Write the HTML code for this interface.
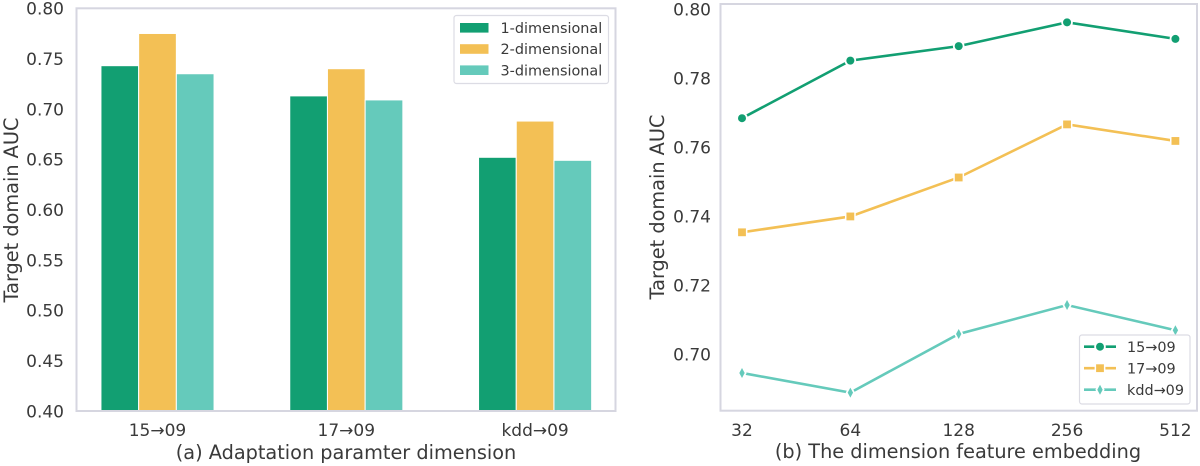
<!DOCTYPE html>
<html>
<head>
<meta charset="utf-8">
<style>
html,body{margin:0;padding:0;background:#fff;width:1200px;height:466px;overflow:hidden}
svg{display:block}
text{font-family:"DejaVu Sans","Liberation Sans",sans-serif;fill:#3a3a3a}
</style>
</head>
<body>
<svg id="chart" xmlns="http://www.w3.org/2000/svg" width="1200" height="466" viewBox="0 0 1200 466"></svg>
<script>
const barCategories = ['15→09', '17→09', 'kdd→09'];
const barSeriesNames = ['1-dimensional', '2-dimensional', '3-dimensional'];
const barValues1d = [0.743, 0.713, 0.652];
const barValues2d = [0.775, 0.740, 0.688];
const barValues3d = [0.735, 0.709, 0.649];
const barTicks = ['0.40', '0.45', '0.50', '0.55', '0.60', '0.65', '0.70', '0.75', '0.80'];

const lineCategories = ['32', '64', '128', '256', '512'];
const lineSeriesNames = ['15→09', '17→09', 'kdd→09'];
const lineValues15 = [0.7684, 0.7851, 0.7893, 0.7962, 0.7914];
const lineValues17 = [0.7353, 0.7399, 0.7512, 0.7666, 0.7618];
const lineValuesKdd = [0.6945, 0.6888, 0.7058, 0.7142, 0.7069];
const lineTicks = ['0.70', '0.72', '0.74', '0.76', '0.78', '0.80'];

const GREEN = '#129f72', YELLOW = '#f3c055', TEAL = '#65cabb', EDGE = '#d6d6e0';
const svg = document.getElementById('chart');
const NS = 'http://www.w3.org/2000/svg';

function make(tag, attrs, parent) {
  const el = document.createElementNS(NS, tag);
  for (const k in attrs) el.setAttribute(k, attrs[k]);
  (parent || svg).appendChild(el);
  return el;
}
function label(str, x, y, size, anchor, parent, rotate) {
  const t = make('text', {x: x, y: y, 'font-size': size, 'text-anchor': anchor}, parent);
  if (rotate) t.setAttribute('transform', 'rotate(-90 ' + x + ' ' + y + ')');
  t.textContent = str;
  return t;
}

/* ---------- left panel: bars ---------- */
const L = {x0: 76.5, x1: 615.5, top: 8.3, bottom: 411};
const leftY = v => L.bottom - (v - 0.40) / (0.80 - 0.40) * (L.bottom - L.top);
const leftX = i => 157.5 + i * 188.8;
const barW = 37.7;

const leftPanel = make('g', {});



const barSeries = [barValues1d, barValues2d, barValues3d];
const barColors = [GREEN, YELLOW, TEAL];
barSeries.forEach((vals, s) => {
  vals.forEach((v, i) => {
    const r = make('rect', {
      x: leftX(i) + (s - 1.5) * barW,
      y: leftY(v),
      width: barW,
      height: L.bottom - leftY(v),
      fill: barColors[s],
      stroke: '#fff',
      'stroke-width': 1
    }, leftPanel);
    
    
  });
});

const leftFrame = make('rect', {x: L.x0, y: L.top, width: L.x1 - L.x0, height: L.bottom - L.top, fill: 'none', stroke: EDGE, 'stroke-width': 2}, leftPanel);



barTicks.forEach(t => {
  const el = label(t, 64, leftY(parseFloat(t)) + 6.3, 17, 'end', leftPanel);
  
  
});
barCategories.forEach((c, i) => {
  const el = label(c, leftX(i), 436, 17, 'middle', leftPanel);
  
  
});
const leftYTitle = label('Target domain AUC', 18, 210, 19.3, 'middle', leftPanel, true);


const leftXTitle = label('(a) Adaptation paramter dimension', 346, 459, 19.3, 'middle', leftPanel);



const leftLegend = make('g', {}, leftPanel);


make('rect', {x: 454, y: 15.5, width: 154.5, height: 68, rx: 2.5, fill: '#fff', stroke: '#dcdce4', 'stroke-width': 1.2}, leftLegend);
barSeriesNames.forEach((n, i) => {
  const yy = 23 + i * 21.2;
  const sw = make('rect', {x: 460, y: yy, width: 28.5, height: 9.6, fill: barColors[i]}, leftLegend);
  
  
  const el = label(n, 500.5, yy + 10, 14.4, 'start', leftLegend);
  
  
});

/* ---------- right panel: lines ---------- */
const R = {x0: 720.5, x1: 1197, top: 4, bottom: 410.7};
const rightY = v => 354 - (v - 0.70) / 0.02 * 68.95;
const rightX = i => 742 + i * 108.35;

const rightPanel = make('g', {});



const rightFrame = make('rect', {x: R.x0, y: R.top, width: R.x1 - R.x0, height: R.bottom - R.top, fill: 'none', stroke: EDGE, 'stroke-width': 2}, rightPanel);



function marker(kind, x, y, color, parent) {
  const common = {fill: color, stroke: '#fff', 'paint-order': 'stroke'};
  if (kind === 'circle') {
    return make('circle', Object.assign({cx: x, cy: y, r: 4, 'stroke-width': 3.6}, common), parent);
  }
  if (kind === 'square') {
    return make('rect', Object.assign({x: x - 3.9, y: y - 3.9, width: 7.8, height: 7.8, 'stroke-width': 3}, common), parent);
  }
  return make('polygon', Object.assign({
    points: [[x, y - 5], [x + 2.7, y], [x, y + 5], [x - 2.7, y]].map(p => p.join(',')).join(' '),
    'stroke-width': 3.4
  }, common), parent);
}

const lineSeries = [lineValues15, lineValues17, lineValuesKdd];
const lineKinds = ['circle', 'square', 'diamond'];
lineSeries.forEach((vals, s) => {
  const pl = make('polyline', {
    points: vals.map((v, i) => rightX(i) + ',' + rightY(v)).join(' '),
    fill: 'none', stroke: barColors[s], 'stroke-width': 2.6
  }, rightPanel);
  
  
  vals.forEach((v, i) => {
    const m = marker(lineKinds[s], rightX(i), rightY(v), barColors[s], rightPanel);
    
    
  });
});

lineTicks.forEach(t => {
  const el = label(t, 711, rightY(parseFloat(t)) + 6.3, 17, 'end', rightPanel);
  
  
});
lineCategories.forEach((c, i) => {
  const el = label(c, rightX(i), 436, 17, 'middle', rightPanel);
  
  
});
const rightYTitle = label('Target domain AUC', 664, 207, 19.3, 'middle', rightPanel, true);


const rightXTitle = label('(b) The dimension feature embedding', 958, 458, 19.3, 'middle', rightPanel);



const rightLegend = make('g', {}, rightPanel);


make('rect', {x: 1079.5, y: 335, width: 110.5, height: 69, rx: 2.5, fill: '#fff', stroke: '#dcdce4', 'stroke-width': 1.2}, rightLegend);
lineSeriesNames.forEach((n, i) => {
  const yy = 346.7 + i * 21.5;
  const h = make('line', {x1: 1084, x2: 1116, y1: yy, y2: yy, stroke: barColors[i], 'stroke-width': 2.6}, rightLegend);
  
  
  const m = marker(lineKinds[i], 1100, yy, barColors[i], rightLegend);
  
  
  const el = label(n, 1127, yy + 5.3, 14.4, 'start', rightLegend);
  
  
});
</script>
</body>
</html>
